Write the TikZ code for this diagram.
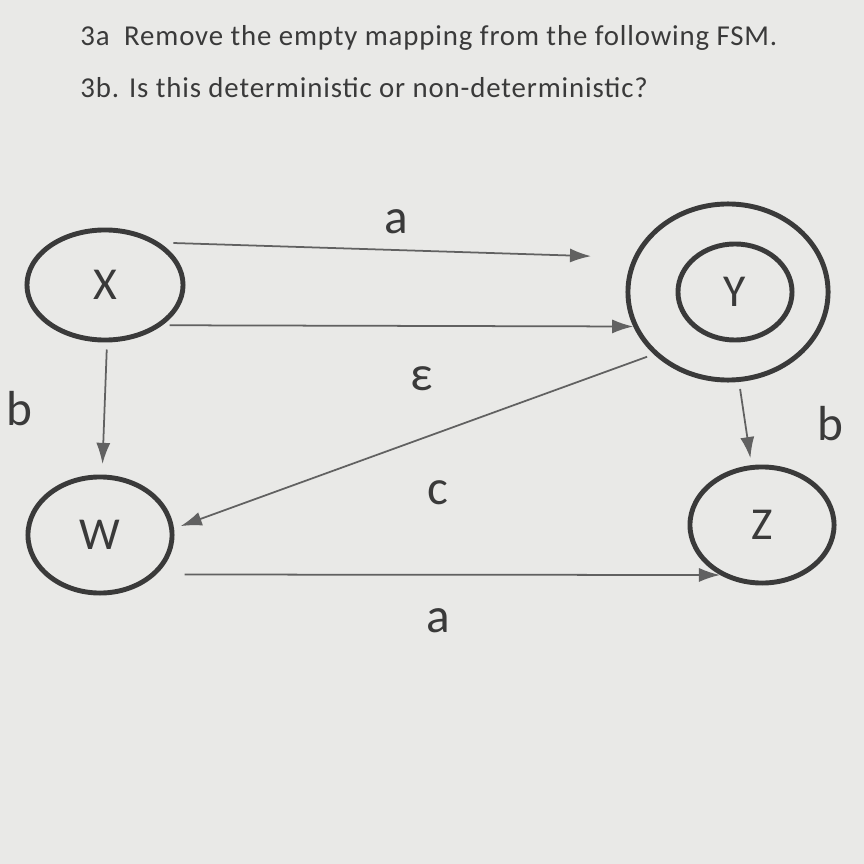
\documentclass[tikz,border=0pt]{standalone}
\usepackage{fontspec}
\setmainfont{Carlito}
\usetikzlibrary{shapes.geometric,arrows.meta}
\definecolor{paper}{HTML}{E9E9E7}
\definecolor{ink}{HTML}{3A3A3A}
\begin{document}
\begin{tikzpicture}[x=0.01cm,y=-0.01cm,
  st/.style={ellipse,draw=ink,line width=1.4pt,inner sep=0pt,font=\fontsize{13}{13}\selectfont,text=ink},
  tr/.style={draw=ink!80,line width=0.5pt,-{Latex[length=6pt,width=4pt]}},
  lb/.style={font=\fontsize{14}{14}\selectfont,text=ink},
  hd/.style={font=\fontsize{8.2}{9}\selectfont,text=ink,anchor=west}]
\fill[paper] (0,0) rectangle (864,864);
\useasboundingbox (0,0) rectangle (864,864);
\node[hd] (h1) at (68,38) {\addfontfeature{LetterSpace=3}3a\enspace Remove the empty mapping from the following FSM.};
\node[hd] (h2) at (68,88) {\addfontfeature{LetterSpace=3}3b. Is this deterministic or non-deterministic?};
\node[st,minimum width=1.56cm,minimum height=1.10cm] (X) at (105,285) {X};
\node[st,minimum width=2.00cm,minimum height=1.76cm] (Y) at (728,292) {};
\node[st,minimum width=1.14cm,minimum height=0.96cm] (Yi) at (735,292) {Y};
\node[st,minimum width=1.44cm,minimum height=1.16cm] (W) at (100,535) {W};
\node[st,minimum width=1.44cm,minimum height=1.16cm] (Z) at (762,525) {Z};
\draw[tr,shorten <=4pt,shorten >=12pt] (X.38) -- (Y.160) node[lb,pos=0.5,above=1pt] (la1) {a};
\draw[tr,shorten <=2pt] (X.-35) -- (Y.-160) node[lb,pos=0.55,below=8pt] (le) {ε};
\draw[tr,shorten <=2pt,shorten >=2pt] (Y.-140) -- (W.5) node[lb,pos=0.45,below=10pt] (lc) {c};
\draw[tr,shorten <=2pt,shorten >=3pt] (X.-88) -- (W.88) node[lb,pos=0.5,left=17pt] (lb1) {b};
\draw[tr,shorten <=2pt,shorten >=2pt] (Y.-83) -- (Z.100) node[lb,pos=0.5,right=17pt] (lb2) {b};
\draw[tr,shorten <=8pt] (W.-35) -- (Z.-130) node[lb,pos=0.5,below=6pt] (la2) {a};
\end{tikzpicture}
\end{document}
